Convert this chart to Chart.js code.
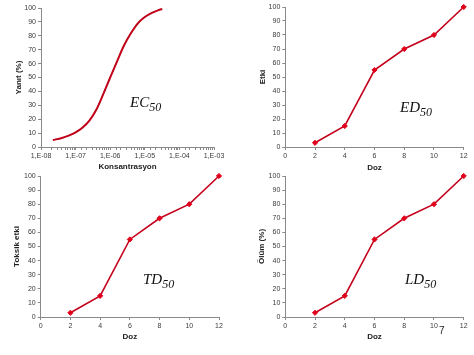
<!DOCTYPE html>
<html>
<head>
<meta charset="utf-8">
<script src="https://cdn.jsdelivr.net/npm/chart.js@4.4.1/dist/chart.umd.min.js"></script>
<style>
  html, body { margin:0; padding:0; background:#fff; }
  #wrap { position:relative; width:474px; height:355px; overflow:hidden; background:#fff; }
  canvas { position:absolute; }
  .ann { position:absolute; font-family:'Liberation Serif', 'DejaVu Serif', serif; font-style:italic; font-size:15px; line-height:1; color:#111; white-space:nowrap; }
  .ann span { font-size:12px; vertical-align:-4px; line-height:1; }
  .pg { position:absolute; font-family:'Liberation Sans', Arial, sans-serif; font-size:10px; line-height:1; color:#222; }
</style>
</head>
<body>
<div id="wrap">
  <canvas id="c1" width="237" height="175" style="left:0;top:0"></canvas>
  <canvas id="c2" width="237" height="175" style="left:237px;top:0"></canvas>
  <canvas id="c3" width="237" height="187" style="left:0;top:168px"></canvas>
  <canvas id="c4" width="237" height="187" style="left:237px;top:168px"></canvas>
  <div class="ann" style="left:130px;top:95.4px">EC<span>50</span></div>
  <div class="ann" style="left:400px;top:100.4px">ED<span>50</span></div>
  <div class="ann" style="left:143px;top:272.4px">TD<span>50</span></div>
  <div class="ann" style="left:405px;top:272.4px">LD<span>50</span></div>
  <div class="pg" style="left:439px;top:326px">7</div>
</div>
<script>
// ---- Data ----
// EC50 concentration-response curve (concentration, response %)
const concentrations = [2.2e-8, 4e-8, 6.3e-8, 1e-7, 1.6e-7, 2.5e-7, 4e-7, 6.3e-7, 1e-6, 1.6e-6, 2.5e-6, 4e-6, 6.3e-6, 1e-5, 1.6e-5, 2.5e-5, 3.2e-5];
const responses      = [5,      6.5,  8.2,    10.5, 14,     19,     27,   38,     50,   62,     73,     82,   89,     93.5, 96.5,   98.5,   99.3];
const concTickLabels = ['1,E-08', '1,E-07', '1,E-06', '1,E-05', '1,E-04', '1,E-03'];

// Dose-effect panels
const doses        = [2, 4, 6, 8, 10, 12];
const effect       = [3, 15, 55, 70, 80, 100];
const toxicEffect  = [3, 15, 55, 70, 80, 100];
const death        = [3, 15, 55, 70, 80, 100];

const yTitles = ['Yanıt (%)', 'Etki', 'Toksik etki', 'Ölüm (%)'];
const xTitles = ['Konsantrasyon', 'Doz', 'Doz', 'Doz'];

// ---- Styles ----
const AXIS = '#8a8a8a';
const TICKTXT = '#3a3a3a';
const FONT = "'Liberation Sans', Arial, sans-serif";
const LINE = '#c4001c';
const MARK = '#e0001a';

function yScale(width, title, titlePad) {
  return {
    min: 0, max: 100,
    ticks: { stepSize: 10, color: TICKTXT, font: { family: FONT, size: 7 }, padding: 2 },
    grid: { drawOnChartArea: false, drawTicks: true, tickLength: 3, color: AXIS },
    border: { color: AXIS, width: 1 },
    title: { display: true, text: title, color: '#222', font: { family: FONT, size: 8, weight: 'bold' }, padding: { top: titlePad, bottom: 0 } },
    afterFit(s) { s.width = width; }
  };
}

function baseOptions(pad, scales) {
  return {
    responsive: false, animation: false, devicePixelRatio: 1,
    layout: { padding: pad },
    plugins: { legend: { display: false }, tooltip: { enabled: false } },
    scales
  };
}

// Panel 1: EC50 (log axis)
new Chart(document.getElementById('c1'), {
  type: 'line',
  data: { datasets: [{
    data: concentrations.map((c, i) => ({ x: c, y: responses[i] })),
    borderColor: '#c00018', borderWidth: 2, pointRadius: 0,
    cubicInterpolationMode: 'monotone', clip: false
  }]},
  options: baseOptions({ top: 8, right: 23, left: 0, bottom: 0 }, {
    x: {
      type: 'logarithmic', min: 1e-8, max: 1e-3,
      ticks: {
        autoSkip: false, maxRotation: 0, color: TICKTXT, font: { family: FONT, size: 7 }, padding: 2,
        callback(v) {
          const l = Math.log10(v), e = Math.round(l);
          return Math.abs(l - e) < 1e-6 ? (concTickLabels[e + 8] || '') : '';
        }
      },
      grid: { drawOnChartArea: false, drawTicks: true, tickLength: 3, color: AXIS },
      border: { color: AXIS, width: 1 },
      title: { display: true, text: xTitles[0], color: '#222', font: { family: FONT, size: 8, weight: 'bold' }, padding: { top: 0, bottom: 3.2 } },
      afterFit(s) { s.height = 28; }
    },
    y: yScale(41, yTitles[0], 14)
  })
});

function dosePanel(id, values, yTitle, xTitle, yWidth, titlePad, pad, xHeight, xTitlePad) {
  new Chart(document.getElementById(id), {
    type: 'line',
    data: { datasets: [{
      data: doses.map((d, i) => ({ x: d, y: values[i] })),
      borderColor: LINE, borderWidth: 1.6, tension: 0,
      pointStyle: 'rectRot', pointRadius: 2.6, pointBackgroundColor: MARK, pointBorderColor: MARK, pointBorderWidth: 1,
      clip: false
    }]},
    options: baseOptions(pad, {
      x: {
        type: 'linear', min: 0, max: 12,
        ticks: { stepSize: 2, color: TICKTXT, font: { family: FONT, size: 7 }, padding: 2, maxRotation: 0 },
        grid: { drawOnChartArea: false, drawTicks: true, tickLength: 3, color: AXIS },
        border: { color: AXIS, width: 1 },
        title: { display: true, text: xTitle, color: '#222', font: { family: FONT, size: 8, weight: 'bold' }, padding: { top: 0, bottom: xTitlePad } },
        afterFit(s) { s.height = xHeight; }
      },
      y: yScale(yWidth, yTitle, titlePad)
    })
  });
}

dosePanel('c2', effect, yTitles[1], xTitles[1], 48.3, 21, { top: 7, right: 10.3, left: 0, bottom: 0 }, 28, 2.2);
dosePanel('c3', toxicEffect, yTitles[2], xTitles[2], 40.7, 12.2, { top: 8, right: 18, left: 0, bottom: 0 }, 38, 13.5);
dosePanel('c4', death, yTitles[3], xTitles[3], 48.3, 20, { top: 8, right: 10.3, left: 0, bottom: 0 }, 38, 13.5);
</script>
</body>
</html>
